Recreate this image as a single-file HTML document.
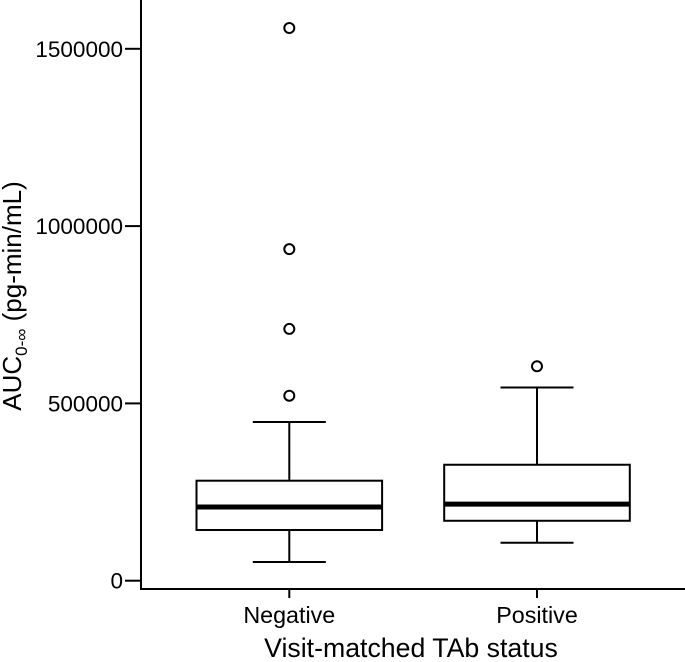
<!DOCTYPE html>
<html><head><meta charset="utf-8"><style>
html,body{margin:0;padding:0;background:#fff;}
svg{display:block;font-family:"Liberation Sans",Arial,sans-serif;}
</style></head><body>
<svg id="chart" width="685" height="662">
<g id="axes"></g>
<g id="plot"></g>
<text x="411" y="657" font-size="26.7" text-anchor="middle" fill="#000">Visit-matched TAb status</text>
<text transform="translate(21,296) rotate(-90)" font-size="26" text-anchor="middle" fill="#000">AUC<tspan font-size="17" dy="6">0-∞</tspan><tspan dy="-6"> (pg-min/mL)</tspan></text>
</svg>
<script>
const categories = ["Negative", "Positive"];
const lowerWhisker = [52700, 107000];
const q1 = [143000, 169000];
const median = [208000, 216000];
const q3 = [282000, 327000];
const upperWhisker = [447500, 545000];
const outliers = [[521700, 710000, 935000, 1558600], [604600]];
const yTicks = [0, 500000, 1000000, 1500000];
const yTickLabels = ["0", "500000", "1000000", "1500000"];

const NS = "http://www.w3.org/2000/svg";
const y0 = 580.7, pxPer = 177.3 / 500000;
const yScale = v => y0 - v * pxPer;
const xCenter = i => 289.3 + i * 247.7;
const boxHalf = 92.8, capHalf = 36.5;

function mk(parent, tag, attrs) {
  const e = document.createElementNS(NS, tag);
  for (const k in attrs) e.setAttribute(k, attrs[k]);
  parent.appendChild(e);
  return e;
}
const axes = document.getElementById('axes');
const plot = document.getElementById('plot');

let el = mk(axes, 'line', {x1:141, y1:0, x2:141, y2:589, stroke:'#000', 'stroke-width':2});


el = mk(axes, 'line', {x1:140, y1:589, x2:685, y2:589, stroke:'#000', 'stroke-width':2});



yTicks.forEach((v, i) => {
  const y = yScale(v);
  const t = mk(axes, 'line', {x1:125, y1:y, x2:141, y2:y, stroke:'#000', 'stroke-width':2});
  
  
  const l = mk(axes, 'text', {x:123, y:y + 8, 'font-size':22.5, 'text-anchor':'end', fill:'#000'});
  l.textContent = yTickLabels[i];
  
  
});

categories.forEach((c, i) => {
  const x = xCenter(i);
  const t = mk(axes, 'line', {x1:x, y1:589, x2:x, y2:598, stroke:'#000', 'stroke-width':2});
  
  
  const l = mk(axes, 'text', {x:x, y:623, 'font-size':23.3, 'text-anchor':'middle', fill:'#000'});
  l.textContent = c;
  
  

  const g = mk(plot, 'g', {});
  
  
  const st = {stroke:'#000', 'stroke-width':2, fill:'none'};
  let w = mk(g, 'line', Object.assign({x1:x, y1:yScale(lowerWhisker[i]), x2:x, y2:yScale(q1[i])}, st));
  
  
  w = mk(g, 'line', Object.assign({x1:x, y1:yScale(q3[i]), x2:x, y2:yScale(upperWhisker[i])}, st));
  
  
  w = mk(g, 'line', Object.assign({x1:x-capHalf, y1:yScale(lowerWhisker[i]), x2:x+capHalf, y2:yScale(lowerWhisker[i])}, st));
  
  
  w = mk(g, 'line', Object.assign({x1:x-capHalf, y1:yScale(upperWhisker[i]), x2:x+capHalf, y2:yScale(upperWhisker[i])}, st));
  
  
  const r = mk(g, 'rect', Object.assign({x:x-boxHalf, y:yScale(q3[i]), width:2*boxHalf, height:yScale(q1[i]) - yScale(q3[i])}, st));
  
  
  const m = mk(g, 'line', {x1:x-boxHalf, y1:yScale(median[i]), x2:x+boxHalf, y2:yScale(median[i]), stroke:'#000', 'stroke-width':5});
  
  
  outliers[i].forEach(v => {
    const o = mk(g, 'circle', {cx:x, cy:yScale(v), r:5, stroke:'#000', 'stroke-width':2, fill:'none'});
    
    
  });
});
</script>
</body></html>
